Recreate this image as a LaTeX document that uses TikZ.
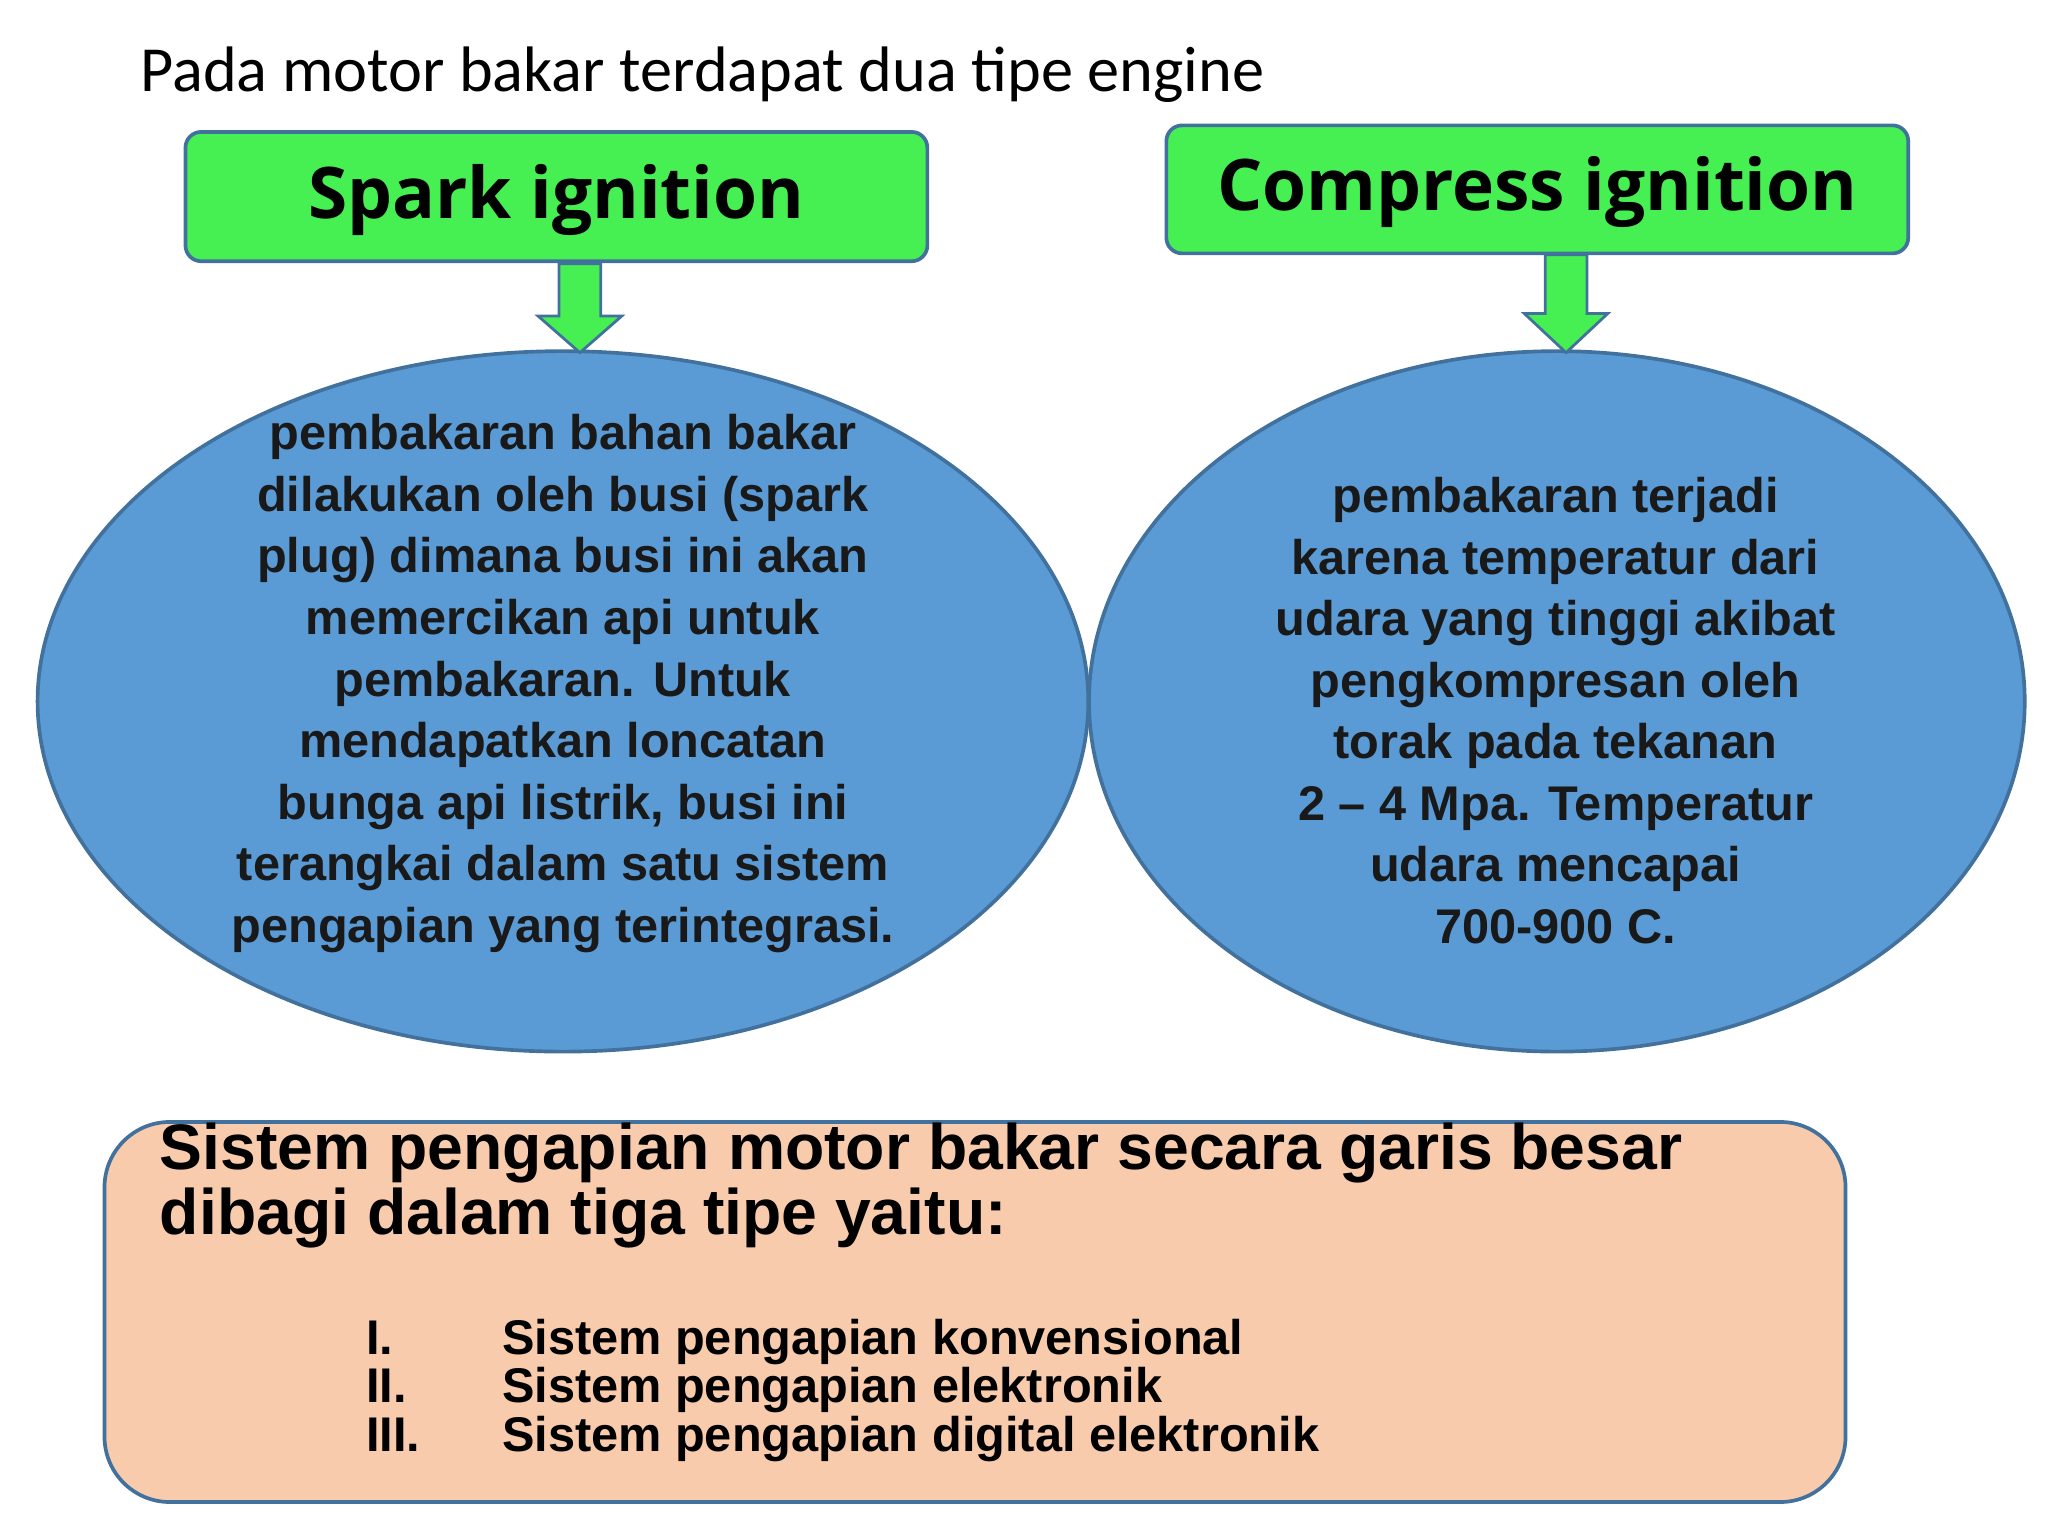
\documentclass[tikz,border=0pt]{standalone}
\usepackage{fontspec}
\setmainfont{Liberation Sans}
\newfontfamily\titlefont{Carlito}
\newfontfamily\headfont{Open Sans}
\usetikzlibrary{shapes.geometric}
\definecolor{gbox}{HTML}{46F052}
\definecolor{bordc}{HTML}{41719C}
\definecolor{ellc}{HTML}{5B9BD5}
\definecolor{peach}{HTML}{F8CBAD}
\tikzset{
 greenbox/.style={draw=bordc,fill=gbox,rounded corners=0.12cm,line width=0.8pt},
 ell/.style={ellipse,draw=bordc,fill=ellc,line width=0.8pt,inner sep=0pt},
 etext/.style={align=center,font=\fontsize{10.6}{13.4}\selectfont\bfseries,text=black!90},
 barrow/.style={draw=bordc,fill=gbox,line width=0.6pt}
}
\begin{document}
\begin{tikzpicture}[x=0.01cm,y=-0.01cm]
\useasboundingbox (0,0) rectangle (1568,1176);
\node[anchor=base west,font=\titlefont\fontsize{14}{16}\selectfont] (title) at (95,70) {Pada motor bakar terdapat dua tipe engine};
% green boxes
\draw[greenbox] (142,101) rectangle (710,200);
\node[font=\headfont\fontsize{15.5}{18}\selectfont\bfseries] (sp) at (426,153) {Spark ignition};
\draw[greenbox] (893,96) rectangle (1461,194);
\node[font=\headfont\fontsize{15.5}{18}\selectfont\bfseries] (ci) at (1177,147) {Compress ignition};
% ellipses
\node[ell,minimum width=804\pgflinewidth*0+8.04cm,minimum height=5.36cm] (e1) at (431,537) {};
\node[ell,minimum width=7.16cm,minimum height=5.36cm] (e2) at (1192,537) {};
% block arrows
\draw[barrow] (428,202) -- (460,202) -- (460,242) -- (476,242) -- (444,270) -- (412,242) -- (428,242) -- cycle;
\draw[barrow] (1183,195) -- (1215,195) -- (1215,240) -- (1231,240) -- (1199,270) -- (1167,240) -- (1183,240) -- cycle;
\node[etext,anchor=north] (t1) at (431,305) {pembakaran bahan bakar\\dilakukan oleh busi (spark\\plug) dimana busi ini akan\\memercikan api untuk\\pembakaran. Untuk\\mendapatkan loncatan\\bunga api listrik, busi ini\\terangkai dalam satu sistem\\pengapian yang terintegrasi.};
\node[etext,anchor=north] (t2) at (1191,353) {pembakaran terjadi\\karena temperatur dari\\udara yang tinggi akibat\\pengkompresan oleh\\torak pada tekanan\\2 -- 4 Mpa. Temperatur\\udara mencapai\\700-900 C.};
% bottom box
\draw[draw=bordc,fill=peach,rounded corners=0.5cm,line width=0.8pt] (80,859) rectangle (1413,1150);
\node[anchor=base west,align=left,font=\fontsize{14}{14.2}\selectfont\bfseries] (h) at (110,945) {Sistem pengapian motor bakar secara garis besar\\dibagi dalam tiga tipe yaitu:};
\begin{scope}[every node/.style={anchor=base west,font=\fontsize{10.6}{12}\selectfont\bfseries}]
\node (n1) at (268,1037) {I.}; \node (l1) at (372,1037) {Sistem pengapian konvensional};
\node (n2) at (268,1074) {II.}; \node (l2) at (372,1074) {Sistem pengapian elektronik};
\node (n3) at (268,1111) {III.}; \node (l3) at (372,1111) {Sistem pengapian digital elektronik};
\end{scope}
\end{tikzpicture}
\end{document}
